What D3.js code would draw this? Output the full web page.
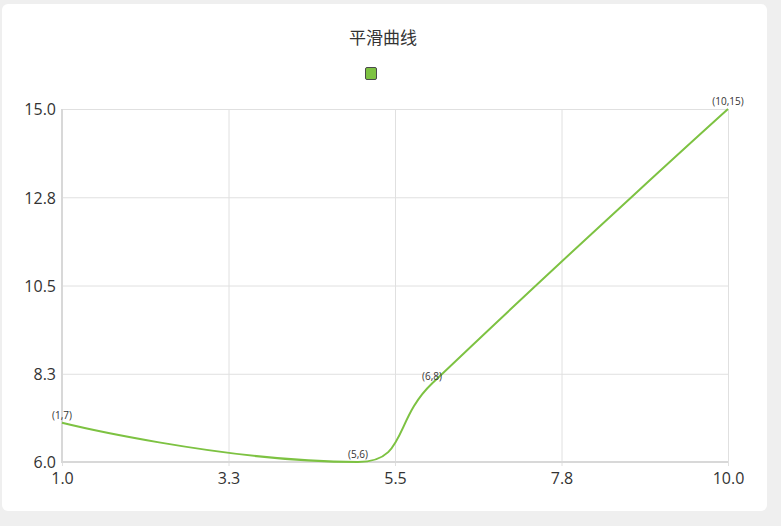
<!DOCTYPE html>
<html>
<head>
<meta charset="utf-8">
<script src="https://cdn.jsdelivr.net/npm/d3@7"></script>
<style>
  html, body { margin: 0; padding: 0; background: #efefef; }
  svg { display: block; }
  .grid line { stroke: #e0e0e0; stroke-width: 1; }
  .grid path { display: none; }
  .lbl path, .lbl line { display: none; }
  .lbl text { font-family: "Open Sans", "Noto Sans", sans-serif; font-size: 16px; fill: #333; }
</style>
</head>
<body>
<svg id="chart" width="781" height="526"></svg>
<script>
var chartTitle = "平滑曲线";
var xValues = [1, 5, 6, 10];
var yValues = [7, 6, 8, 15];
var pointLabels = ["(1,7)", "(5,6)", "(6,8)", "(10,15)"];
var xTicks = [1, 3.25, 5.5, 7.75, 10];
var xTickLabels = ["1.0", "3.3", "5.5", "7.8", "10.0"];
var yTicks = [6, 8.25, 10.5, 12.75, 15];
var yTickLabels = ["6.0", "8.3", "10.5", "12.8", "15.0"];
var lineColor = "#7dc242";

var m = { top: 109, left: 62 };
var w = 728 - m.left, h = 462 - m.top;

var svg = d3.select("#chart");

// card
svg.append("rect").attr("x", 2).attr("y", 4).attr("width", 765).attr("height", 507)
  .attr("rx", 6).attr("fill", "#fff");

svg.append("text").attr("x", 383).attr("y", 44).attr("text-anchor", "middle")
  .style("font-family", "'Noto Sans CJK SC', sans-serif").style("font-size", "17px")
  .attr("fill", "#333").text(chartTitle);

// legend icon (series has no name)
svg.append("rect").attr("x", 365.5).attr("y", 67.5).attr("width", 11).attr("height", 12)
  .attr("rx", 1.5).attr("fill", lineColor).attr("stroke", "#4a4a4a").attr("stroke-width", 1);

var x = d3.scaleLinear().domain([1, 10]).range([0, w]);
var y = d3.scaleLinear().domain([6, 15]).range([h, 0]);

var g = svg.append("g").attr("transform", "translate(" + m.left + "," + m.top + ")");

g.append("g").attr("class", "grid")
  .call(d3.axisLeft(y).tickValues(yTicks).tickSize(-w).tickFormat(""));
g.append("g").attr("class", "grid").attr("transform", "translate(0," + h + ")")
  .call(d3.axisBottom(x).tickValues(xTicks).tickSize(-h).tickFormat(""));

// bottom tick marks
g.append("g").attr("class", "grid").attr("transform", "translate(0," + h + ")")
  .call(d3.axisBottom(x).tickValues(xTicks).tickSize(4).tickFormat(""))
  .selectAll("line").attr("stroke", "#d4d4d4");

// axis lines
g.append("line").attr("x1", 0).attr("x2", w).attr("y1", h).attr("y2", h)
  .attr("stroke", "#d8d8d8").attr("stroke-width", 2);
g.append("line").attr("x1", 0).attr("x2", 0).attr("y1", 0).attr("y2", h + 1)
  .attr("stroke", "#d8d8d8").attr("stroke-width", 2);

g.append("g").attr("class", "lbl")
  .call(d3.axisLeft(y).tickValues(yTicks).tickSize(0).tickPadding(6)
    .tickFormat(function(d, i) { return yTickLabels[i]; }))
  .selectAll("text").attr("dy", "0.36em");
g.append("g").attr("class", "lbl").attr("transform", "translate(0," + h + ")")
  .call(d3.axisBottom(x).tickValues(xTicks).tickSize(0).tickPadding(10)
    .tickFormat(function(d, i) { return xTickLabels[i]; }))
  .selectAll("text").attr("dy", "0.72em");

// bezier smoothing with neighbour-based control points, clamped so extremes stay flat
function clamp(v, a, b) { return Math.max(Math.min(a, b), Math.min(Math.max(a, b), v)); }
function SmoothCurve(context) { this._context = context; }
SmoothCurve.prototype = {
  areaStart: function() {}, areaEnd: function() {},
  lineStart: function() { this._pts = []; },
  point: function(px, py) { this._pts.push([+px, +py]); },
  lineEnd: function() {
    var p = this._pts, ctx = this._context, n = p.length, smooth = 0.5;
    if (!n) return;
    ctx.moveTo(p[0][0], p[0][1]);
    var cp0 = p[0];
    for (var i = 1; i < n; i++) {
      var prev = p[i - 1], cur = p[i], next = p[i + 1], cp1, nextCp0;
      if (!next) {
        cp1 = cur;
      } else {
        var lenPrev = Math.hypot(cur[0] - prev[0], cur[1] - prev[1]);
        var lenNext = Math.hypot(next[0] - cur[0], next[1] - cur[1]);
        var ratio = lenNext / (lenNext + lenPrev);
        var vx = next[0] - prev[0], vy = next[1] - prev[1];
        var nx = clamp(cur[0] + vx * smooth * ratio, cur[0], next[0]);
        var ny = clamp(cur[1] + vy * smooth * ratio, cur[1], next[1]);
        vx = nx - cur[0]; vy = ny - cur[1];
        var cx = clamp(cur[0] - vx * lenPrev / lenNext, cur[0], prev[0]);
        var cy = clamp(cur[1] - vy * lenPrev / lenNext, cur[1], prev[1]);
        cp1 = [cx, cy];
        vx = cur[0] - cx; vy = cur[1] - cy;
        nextCp0 = [cur[0] + vx * lenNext / lenPrev, cur[1] + vy * lenNext / lenPrev];
      }
      ctx.bezierCurveTo(cp0[0], cp0[1], cp1[0], cp1[1], cur[0], cur[1]);
      cp0 = nextCp0;
    }
  }
};

var data = xValues.map(function(v, i) { return { x: v, y: yValues[i], label: pointLabels[i] }; });

var line = d3.line()
  .x(function(d) { return x(d.x); })
  .y(function(d) { return y(d.y); })
  .curve(function(ctx) { return new SmoothCurve(ctx); });

g.append("path").datum(data).attr("d", line)
  .attr("fill", "none").attr("stroke", lineColor).attr("stroke-width", 2);

g.selectAll("text.pt").data(data).enter().append("text").attr("class", "pt")
  .attr("x", function(d) { return x(d.x); })
  .attr("y", function(d) { return y(d.y) - 4; })
  .attr("text-anchor", "middle")
  .style("font-family", "'Open Sans', 'Noto Sans', sans-serif").style("font-size", "10px")
  .attr("fill", "#333")
  .text(function(d) { return d.label; });
</script>
</body>
</html>
